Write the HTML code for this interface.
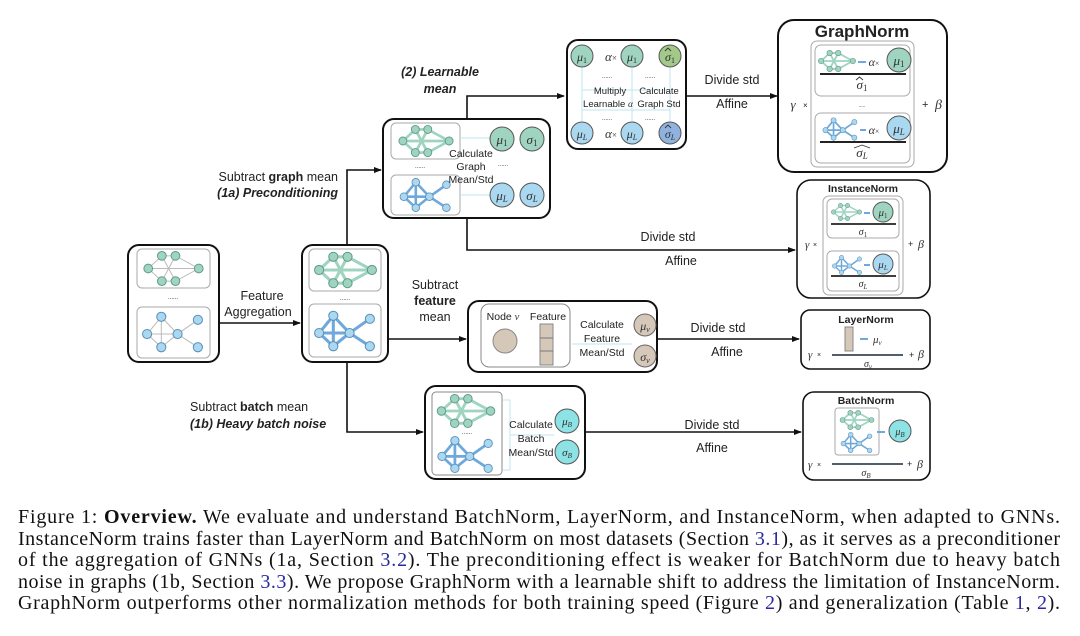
<!DOCTYPE html>
<html><head><meta charset="utf-8"><style>
html,body{margin:0;padding:0;background:#fff}
svg{display:block}
.s{font-family:"Liberation Sans",sans-serif;fill:#222}
.m{font-family:"Liberation Serif",serif;font-style:italic;fill:#333}
.c{font-family:"Liberation Serif",serif;fill:#111;font-size:20px}
</style></head><body>
<svg width="1080" height="636" viewBox="0 0 1080 636" xmlns="http://www.w3.org/2000/svg">
<defs>
<marker id="ar" markerWidth="8" markerHeight="8" refX="7" refY="4" orient="auto" markerUnits="userSpaceOnUse"><path d="M0,1 L8,4 L0,7 z" fill="#111"/></marker>
<symbol id="gg" viewBox="0 0 64 36">
<g stroke="#bbb" stroke-width="1"><line x1="6" y1="18" x2="58" y2="18"/><line x1="20" y1="5" x2="34" y2="5"/><line x1="20" y1="31" x2="34" y2="31"/><line x1="6" y1="18" x2="20" y2="5"/><line x1="6" y1="18" x2="20" y2="31"/><line x1="58" y1="18" x2="34" y2="5"/><line x1="58" y1="18" x2="34" y2="31"/><line x1="20" y1="5" x2="34" y2="31"/><line x1="34" y1="5" x2="20" y2="31"/></g>
<g fill="#9fd4c0" stroke="#5f9a88" stroke-width="1"><circle cx="20" cy="5" r="4.5"/><circle cx="34" cy="5" r="4.5"/><circle cx="6" cy="18" r="4.5"/><circle cx="58" cy="18" r="4.5"/><circle cx="20" cy="31" r="4.5"/><circle cx="34" cy="31" r="4.5"/></g>
</symbol>
<symbol id="ggt" viewBox="0 0 64 36">
<g stroke="#9fd4c0" stroke-width="3"><line x1="6" y1="18" x2="58" y2="18"/><line x1="20" y1="5" x2="34" y2="5"/><line x1="20" y1="31" x2="34" y2="31"/><line x1="6" y1="18" x2="20" y2="5"/><line x1="6" y1="18" x2="20" y2="31"/><line x1="58" y1="18" x2="34" y2="5"/><line x1="58" y1="18" x2="34" y2="31"/><line x1="20" y1="5" x2="34" y2="31"/><line x1="34" y1="5" x2="20" y2="31"/></g>
<g fill="#9fd4c0" stroke="#5f9a88" stroke-width="1"><circle cx="20" cy="5" r="4.5"/><circle cx="34" cy="5" r="4.5"/><circle cx="6" cy="18" r="4.5"/><circle cx="58" cy="18" r="4.5"/><circle cx="20" cy="31" r="4.5"/><circle cx="34" cy="31" r="4.5"/></g>
</symbol>
<symbol id="bg" viewBox="0 0 64 40">
<g stroke="#bbb" stroke-width="1"><line x1="20" y1="5" x2="20" y2="35"/><line x1="6" y1="22" x2="36" y2="22"/><line x1="20" y1="5" x2="6" y2="22"/><line x1="20" y1="5" x2="36" y2="22"/><line x1="6" y1="22" x2="20" y2="35"/><line x1="36" y1="22" x2="20" y2="35"/><line x1="36" y1="22" x2="56" y2="8"/><line x1="36" y1="22" x2="56" y2="35"/></g>
<g fill="#a9d8f0" stroke="#5b8fb8" stroke-width="1"><circle cx="20" cy="5" r="4.5"/><circle cx="6" cy="22" r="4.5"/><circle cx="36" cy="22" r="4.5"/><circle cx="20" cy="35" r="4.5"/><circle cx="56" cy="8" r="4.5"/><circle cx="56" cy="35" r="4.5"/></g>
</symbol>
<symbol id="bgt" viewBox="0 0 64 40">
<g stroke="#6fa8dc" stroke-width="3"><line x1="20" y1="5" x2="20" y2="35"/><line x1="6" y1="22" x2="36" y2="22"/><line x1="20" y1="5" x2="6" y2="22"/><line x1="20" y1="5" x2="36" y2="22"/><line x1="6" y1="22" x2="20" y2="35"/><line x1="36" y1="22" x2="20" y2="35"/><line x1="36" y1="22" x2="56" y2="8"/><line x1="36" y1="22" x2="56" y2="35"/></g>
<g fill="#a9d8f0" stroke="#5b8fb8" stroke-width="1"><circle cx="20" cy="5" r="4.5"/><circle cx="6" cy="22" r="4.5"/><circle cx="36" cy="22" r="4.5"/><circle cx="20" cy="35" r="4.5"/><circle cx="56" cy="8" r="4.5"/><circle cx="56" cy="35" r="4.5"/></g>
</symbol>
</defs>

<g fill="none" stroke="#111" stroke-width="1.6">
<line x1="219" y1="323" x2="300" y2="323" marker-end="url(#ar)"/>
<polyline points="347,245 347,170 381,170" marker-end="url(#ar)"/>
<polyline points="467,118 467,96 564,96" marker-end="url(#ar)"/>
<line x1="686" y1="96" x2="777" y2="96" marker-end="url(#ar)"/>
<polyline points="467,218 467,250 795,250" marker-end="url(#ar)"/>
<line x1="388" y1="339" x2="466" y2="339" marker-end="url(#ar)"/>
<line x1="657" y1="339" x2="799" y2="339" marker-end="url(#ar)"/>
<polyline points="347,362 347,432 423,432" marker-end="url(#ar)"/>
<line x1="585" y1="432" x2="801" y2="432" marker-end="url(#ar)"/>
</g>

<!-- Box A -->
<rect x="128" y="245" width="91" height="117" rx="11" fill="#fff" stroke="#111" stroke-width="2"/>
<rect x="137" y="249" width="73" height="39" rx="5" fill="#fff" stroke="#aaa"/>
<rect x="137" y="307" width="73" height="51" rx="5" fill="#fff" stroke="#aaa"/>
<use href="#gg" x="141" y="251" width="65" height="35"/>
<use href="#bg" x="141" y="311" width="65" height="42"/>
<text x="173" y="299" class="s" font-size="6" text-anchor="middle" fill="#999">......</text>

<text x="262" y="300" class="s" font-size="12.5" text-anchor="middle">Feature</text>
<text x="258" y="316" class="s" font-size="12.5" text-anchor="middle">Aggregation</text>

<!-- Box B -->
<rect x="302" y="245" width="86" height="117" rx="11" fill="#fff" stroke="#111" stroke-width="2"/>
<rect x="309" y="249" width="72" height="42" rx="5" fill="#fff" stroke="#aaa"/>
<rect x="309" y="304" width="72" height="53" rx="5" fill="#fff" stroke="#aaa"/>
<use href="#ggt" x="313" y="251" width="65" height="38"/>
<use href="#bgt" x="313" y="309" width="65" height="44"/>
<text x="345" y="300" class="s" font-size="6" text-anchor="middle" fill="#999">......</text>

<text x="338" y="181" class="s" font-size="12.5" text-anchor="end">Subtract <tspan font-weight="bold">graph</tspan> mean</text>
<text x="338" y="197" class="s" font-size="12.5" text-anchor="end" font-weight="bold" font-style="italic">(1a) Preconditioning</text>
<text x="440" y="76" class="s" font-size="12.5" text-anchor="middle" font-weight="bold" font-style="italic">(2) Learnable</text>
<text x="440" y="93" class="s" font-size="12.5" text-anchor="middle" font-weight="bold" font-style="italic">mean</text>

<!-- Box C -->
<rect x="383" y="119" width="167" height="99" rx="11" fill="#fff" stroke="#111" stroke-width="2"/>
<rect x="391" y="123" width="69" height="36" rx="5" fill="#fff" stroke="#aaa"/>
<rect x="391" y="175" width="69" height="40" rx="5" fill="#fff" stroke="#aaa"/>
<use href="#ggt" x="395" y="125" width="62" height="32"/>
<use href="#bgt" x="395" y="178" width="62" height="34"/>
<line x1="460" y1="138" x2="490" y2="138" stroke="#bfe4f2"/>
<line x1="460" y1="195" x2="490" y2="195" stroke="#bfe4f2"/>
<text x="420" y="168" class="s" font-size="6" text-anchor="middle" fill="#999">......</text>
<text x="503" y="166" class="s" font-size="6" text-anchor="middle" fill="#999">......</text>
<text x="471" y="157" class="s" font-size="10.5" text-anchor="middle">Calculate</text>
<text x="471" y="170" class="s" font-size="10.5" text-anchor="middle">Graph</text>
<text x="471" y="183" class="s" font-size="10.5" text-anchor="middle">Mean/Std</text>
<circle cx="502" cy="139" r="12" fill="#9fd4c0" stroke="#555"/><text x="502" y="144" class="m" font-size="13" text-anchor="middle">μ<tspan font-size="9" dy="2" font-style="normal">1</tspan></text>
<circle cx="532" cy="139" r="12" fill="#9fd4c0" stroke="#555"/><text x="532" y="144" class="m" font-size="13" text-anchor="middle">σ<tspan font-size="9" dy="2" font-style="normal">1</tspan></text>
<circle cx="502" cy="195" r="12" fill="#a9d8f0" stroke="#555"/><text x="502" y="200" class="m" font-size="13" text-anchor="middle">μ<tspan font-size="9" dy="2">L</tspan></text>
<circle cx="532" cy="195" r="12" fill="#a9d8f0" stroke="#555"/><text x="532" y="200" class="m" font-size="13" text-anchor="middle">σ<tspan font-size="9" dy="2">L</tspan></text>

<!-- Box D -->
<rect x="567" y="40" width="119" height="109" rx="11" fill="#fff" stroke="#111" stroke-width="2"/>
<g stroke="#bfe4f2" fill="none"><line x1="582" y1="68" x2="582" y2="121"/><line x1="582" y1="110" x2="670" y2="110"/><line x1="632" y1="68" x2="632" y2="121"/><line x1="582" y1="90" x2="670" y2="90"/><line x1="670" y1="68" x2="670" y2="121"/></g>
<text x="610" y="94" class="s" font-size="9.5" text-anchor="middle">Multiply</text>
<text x="608" y="107" class="s" font-size="9.5" text-anchor="middle">Learnable <tspan class="m">α</tspan></text>
<text x="659" y="94" class="s" font-size="9.5" text-anchor="middle">Calculate</text>
<text x="659" y="107" class="s" font-size="9.5" text-anchor="middle">Graph Std</text>
<text x="607" y="78" class="s" font-size="6" text-anchor="middle" fill="#999">......</text>
<text x="650" y="78" class="s" font-size="6" text-anchor="middle" fill="#999">......</text>
<text x="607" y="120" class="s" font-size="6" text-anchor="middle" fill="#999">......</text>
<text x="650" y="120" class="s" font-size="6" text-anchor="middle" fill="#999">......</text>
<circle cx="582" cy="56" r="11" fill="#9fd4c0" stroke="#555"/><text x="582" y="61" class="m" font-size="12" text-anchor="middle">μ<tspan font-size="8" dy="2" font-style="normal">1</tspan></text>
<text x="611" y="61" class="m" font-size="13" text-anchor="middle">α<tspan font-size="9" font-style="normal">×</tspan></text>
<circle cx="632" cy="56" r="11" fill="#9fd4c0" stroke="#555"/><text x="632" y="61" class="m" font-size="12" text-anchor="middle">μ<tspan font-size="8" dy="2" font-style="normal">1</tspan></text>
<circle cx="670" cy="56" r="11" fill="#a3c98a" stroke="#555"/><text x="670" y="61" class="m" font-size="12" text-anchor="middle">σ<tspan font-size="8" dy="2" font-style="normal">1</tspan></text><path d="M665,51 L668,48 L671,51" fill="none" stroke="#333" stroke-width="0.9"/>
<circle cx="582" cy="133" r="11" fill="#a9d8f0" stroke="#555"/><text x="582" y="138" class="m" font-size="12" text-anchor="middle">μ<tspan font-size="8" dy="2">L</tspan></text>
<text x="611" y="138" class="m" font-size="13" text-anchor="middle">α<tspan font-size="9" font-style="normal">×</tspan></text>
<circle cx="632" cy="133" r="11" fill="#a9d8f0" stroke="#555"/><text x="632" y="138" class="m" font-size="12" text-anchor="middle">μ<tspan font-size="8" dy="2">L</tspan></text>
<circle cx="670" cy="133" r="11" fill="#8fb3de" stroke="#555"/><text x="670" y="138" class="m" font-size="12" text-anchor="middle">σ<tspan font-size="8" dy="2">L</tspan></text><path d="M665,128 L668,125 L671,128" fill="none" stroke="#333" stroke-width="0.9"/>

<text x="732" y="84" class="s" font-size="12.5" text-anchor="middle">Divide std</text>
<text x="732" y="108" class="s" font-size="12.5" text-anchor="middle">Affine</text>

<!-- GraphNorm -->
<rect x="778" y="20" width="169" height="152" rx="16" fill="#fff" stroke="#111" stroke-width="2"/>
<text x="862" y="37" class="s" font-size="17" font-weight="bold" text-anchor="middle" fill="#111">GraphNorm</text>
<rect x="811" y="41" width="103" height="126" rx="6" fill="none" stroke="#aaa"/>
<rect x="815" y="45" width="95" height="51" rx="6" fill="none" stroke="#aaa"/>
<rect x="815" y="113" width="95" height="50" rx="6" fill="none" stroke="#aaa"/>
<use href="#ggt" x="817" y="50" width="40" height="22"/>
<line x1="858" y1="62" x2="866" y2="62" stroke="#6fa8dc" stroke-width="2"/>
<text x="874" y="66" class="m" font-size="12" text-anchor="middle">α<tspan font-size="8" font-style="normal">×</tspan></text>
<circle cx="899" cy="60" r="12" fill="#9fd4c0" stroke="#555"/><text x="899" y="65" class="m" font-size="13" text-anchor="middle">μ<tspan font-size="9" dy="2" font-style="normal">1</tspan></text>
<line x1="820" y1="74" x2="906" y2="74" stroke="#222" stroke-width="2"/>
<text x="862" y="89" class="m" font-size="13" text-anchor="middle">σ<tspan font-size="9" dy="2" font-style="normal">1</tspan></text><path d="M856,80 L859.5,77 L863,80" fill="none" stroke="#333" stroke-width="0.9"/>
<text x="862" y="107" class="s" font-size="5" text-anchor="middle" fill="#aaa">.....</text>
<use href="#bgt" x="822" y="117" width="37" height="24"/>
<line x1="860" y1="130" x2="866" y2="130" stroke="#6fa8dc" stroke-width="2"/>
<text x="874" y="134" class="m" font-size="12" text-anchor="middle">α<tspan font-size="8" font-style="normal">×</tspan></text>
<circle cx="899" cy="128" r="12" fill="#a9d8f0" stroke="#555"/><text x="899" y="133" class="m" font-size="13" text-anchor="middle">μ<tspan font-size="9" dy="2">L</tspan></text>
<line x1="820" y1="142" x2="906" y2="142" stroke="#222" stroke-width="2"/>
<text x="862" y="157" class="m" font-size="13" text-anchor="middle">σ<tspan font-size="9" dy="2">L</tspan></text><path d="M854,148 L862,145 L870,148" fill="none" stroke="#333" stroke-width="0.8"/>
<text x="793" y="109" class="m" font-size="13" text-anchor="middle">γ</text><text x="803" y="108" class="s" font-size="8">×</text>
<text x="922" y="108" class="s" font-size="11">+</text><text x="935" y="109" class="m" font-size="14">β</text>

<text x="668" y="241" class="s" font-size="12.5" text-anchor="middle">Divide std</text>
<text x="681" y="265" class="s" font-size="12.5" text-anchor="middle">Affine</text>

<!-- InstanceNorm -->
<rect x="797" y="180" width="133" height="118" rx="14" fill="#fff" stroke="#111" stroke-width="1.6"/>
<text x="863" y="192" class="s" font-size="10.5" font-weight="bold" text-anchor="middle" fill="#111">InstanceNorm</text>
<rect x="823" y="196" width="80" height="99" rx="6" fill="none" stroke="#aaa"/>
<rect x="827" y="199" width="72" height="39" rx="5" fill="none" stroke="#aaa"/>
<rect x="827" y="251" width="72" height="40" rx="5" fill="none" stroke="#aaa"/>
<use href="#ggt" x="830" y="203" width="33" height="18"/>
<line x1="864" y1="213" x2="870" y2="213" stroke="#6fa8dc" stroke-width="2"/>
<circle cx="883" cy="212" r="10" fill="#9fd4c0" stroke="#555"/><text x="883" y="216" class="m" font-size="11" text-anchor="middle">μ<tspan font-size="7" dy="2" font-style="normal">1</tspan></text>
<line x1="831" y1="224" x2="896" y2="224" stroke="#222" stroke-width="1.8"/>
<text x="863" y="235" class="m" font-size="10" text-anchor="middle">σ<tspan font-size="7" dy="2" font-style="normal">1</tspan></text>
<use href="#bgt" x="831" y="255" width="33" height="20"/>
<line x1="864" y1="265" x2="870" y2="265" stroke="#6fa8dc" stroke-width="2"/>
<circle cx="883" cy="264" r="10" fill="#a9d8f0" stroke="#555"/><text x="883" y="268" class="m" font-size="11" text-anchor="middle">μ<tspan font-size="7" dy="2">L</tspan></text>
<line x1="831" y1="276" x2="896" y2="276" stroke="#222" stroke-width="1.8"/>
<text x="863" y="287" class="m" font-size="10" text-anchor="middle">σ<tspan font-size="7" dy="2">L</tspan></text>
<text x="805" y="248" class="m" font-size="11">γ</text><text x="813" y="247" class="s" font-size="7">×</text>
<text x="908" y="247" class="s" font-size="9">+</text><text x="918" y="248" class="m" font-size="12">β</text>

<!-- Feature -->
<text x="435" y="289" class="s" font-size="12.5" text-anchor="middle">Subtract</text>
<text x="435" y="305" class="s" font-size="12.5" text-anchor="middle" font-weight="bold">feature</text>
<text x="435" y="321" class="s" font-size="12.5" text-anchor="middle">mean</text>
<rect x="468" y="301" width="189" height="71" rx="11" fill="#fff" stroke="#111" stroke-width="2"/>
<rect x="481" y="304" width="89" height="63" rx="8" fill="none" stroke="#888"/>
<text x="503" y="320" class="s" font-size="10.5" text-anchor="middle">Node <tspan class="m">v</tspan></text>
<text x="548" y="320" class="s" font-size="10.5" text-anchor="middle">Feature</text>
<circle cx="505" cy="341" r="12" fill="#d5c8b8" stroke="#888"/>
<rect x="540" y="324" width="13" height="41" fill="#d5c8b8" stroke="#888"/>
<line x1="540" y1="338" x2="553" y2="338" stroke="#777"/><line x1="540" y1="351" x2="553" y2="351" stroke="#777"/>
<line x1="572" y1="344" x2="632" y2="344" stroke="#bfe4f2"/>
<text x="602" y="328" class="s" font-size="10.5" text-anchor="middle">Calculate</text>
<text x="602" y="342" class="s" font-size="10.5" text-anchor="middle">Feature</text>
<text x="602" y="356" class="s" font-size="10.5" text-anchor="middle">Mean/Std</text>
<circle cx="645" cy="325" r="11" fill="#d5c8b8" stroke="#666"/><text x="645" y="330" class="m" font-size="12" text-anchor="middle">μ<tspan font-size="8" dy="2">v</tspan></text>
<circle cx="645" cy="356" r="11" fill="#d5c8b8" stroke="#666"/><text x="645" y="361" class="m" font-size="12" text-anchor="middle">σ<tspan font-size="8" dy="2">v</tspan></text>
<text x="718" y="332" class="s" font-size="12.5" text-anchor="middle">Divide std</text>
<text x="727" y="356" class="s" font-size="12.5" text-anchor="middle">Affine</text>

<!-- LayerNorm -->
<rect x="801" y="310" width="129" height="59" rx="9" fill="#fff" stroke="#111" stroke-width="1.6"/>
<text x="866" y="323" class="s" font-size="10.5" font-weight="bold" text-anchor="middle" fill="#111">LayerNorm</text>
<rect x="845" y="327" width="8" height="24" fill="#d5c8b8" stroke="#888"/>
<line x1="860" y1="339" x2="868" y2="339" stroke="#6fa8dc" stroke-width="2"/>
<text x="873" y="343" class="m" font-size="11">μ<tspan font-size="7" dy="2">v</tspan></text>
<line x1="832" y1="355" x2="903" y2="355" stroke="#3a4658" stroke-width="1.8"/>
<text x="868" y="367" class="m" font-size="10" text-anchor="middle">σ<tspan font-size="7" dy="2">v</tspan></text>
<text x="808" y="358" class="m" font-size="11">γ</text><text x="817" y="357" class="s" font-size="7">×</text>
<text x="909" y="358" class="s" font-size="9">+</text><text x="918" y="358" class="m" font-size="12">β</text>

<!-- Batch -->
<text x="190" y="411" class="s" font-size="12.5">Subtract <tspan font-weight="bold">batch</tspan> mean</text>
<text x="190" y="428" class="s" font-size="12.5" font-weight="bold" font-style="italic">(1b) Heavy batch noise</text>
<rect x="425" y="386" width="160" height="93" rx="11" fill="#fff" stroke="#111" stroke-width="2"/>
<rect x="432" y="392" width="70" height="83" rx="4" fill="none" stroke="#888"/>
<use href="#ggt" x="434" y="394" width="64" height="34"/>
<use href="#bgt" x="434" y="436" width="64" height="37"/>
<text x="467" y="434" class="s" font-size="6" text-anchor="middle" fill="#999">......</text>
<polyline points="503,400 510,400 510,470 503,470" fill="none" stroke="#bfe4f2"/>
<line x1="510" y1="435" x2="554" y2="435" stroke="#bfe4f2"/>
<text x="531" y="428" class="s" font-size="10.5" text-anchor="middle">Calculate</text>
<text x="531" y="442" class="s" font-size="10.5" text-anchor="middle">Batch</text>
<text x="531" y="456" class="s" font-size="10.5" text-anchor="middle">Mean/Std</text>
<circle cx="567" cy="421" r="12" fill="#8de2e4" stroke="#555"/><text x="567" y="425" class="m" font-size="11" text-anchor="middle">μ<tspan font-size="7" dy="2">B</tspan></text>
<circle cx="567" cy="452" r="12" fill="#8de2e4" stroke="#555"/><text x="567" y="456" class="m" font-size="11" text-anchor="middle">σ<tspan font-size="7" dy="2">B</tspan></text>
<text x="712" y="429" class="s" font-size="12.5" text-anchor="middle">Divide std</text>
<text x="712" y="452" class="s" font-size="12.5" text-anchor="middle">Affine</text>

<!-- BatchNorm -->
<rect x="803" y="392" width="127" height="88" rx="11" fill="#fff" stroke="#111" stroke-width="1.6"/>
<text x="866" y="404" class="s" font-size="10.5" font-weight="bold" text-anchor="middle" fill="#111">BatchNorm</text>
<rect x="835" y="408" width="44" height="47" rx="3" fill="none" stroke="#aaa"/>
<use href="#ggt" x="837" y="410" width="40" height="20"/>
<use href="#bgt" x="837" y="432" width="40" height="21"/>
<line x1="877" y1="432" x2="885" y2="432" stroke="#6fa8dc" stroke-width="2"/>
<circle cx="900" cy="431" r="11" fill="#8de2e4" stroke="#555"/><text x="900" y="435" class="m" font-size="10" text-anchor="middle">μ<tspan font-size="7" dy="2">B</tspan></text>
<line x1="832" y1="464" x2="903" y2="464" stroke="#3a4658" stroke-width="1.8"/>
<text x="866" y="476" class="m" font-size="10" text-anchor="middle">σ<tspan font-size="7" dy="2">B</tspan></text>
<text x="808" y="468" class="m" font-size="11">γ</text><text x="817" y="467" class="s" font-size="7">×</text>
<text x="907" y="467" class="s" font-size="9">+</text><text x="917" y="468" class="m" font-size="12">β</text>

<!-- Caption -->
<text x="18" y="523" class="c" textLength="1042" lengthAdjust="spacing">Figure 1: <tspan font-weight="bold">Overview.</tspan> We evaluate and understand BatchNorm, LayerNorm, and InstanceNorm, when adapted to GNNs.</text>
<text x="18" y="545" class="c" textLength="1042" lengthAdjust="spacing">InstanceNorm trains faster than LayerNorm and BatchNorm on most datasets (Section <tspan fill="#2a2aa0">3.1</tspan>), as it serves as a preconditioner</text>
<text x="18" y="566" class="c" textLength="1042" lengthAdjust="spacing">of the aggregation of GNNs (1a, Section <tspan fill="#2a2aa0">3.2</tspan>). The preconditioning effect is weaker for BatchNorm due to heavy batch</text>
<text x="18" y="588" class="c" textLength="1042" lengthAdjust="spacing">noise in graphs (1b, Section <tspan fill="#2a2aa0">3.3</tspan>). We propose GraphNorm with a learnable shift to address the limitation of InstanceNorm.</text>
<text x="18" y="609" class="c" textLength="1042" lengthAdjust="spacing">GraphNorm outperforms other normalization methods for both training speed (Figure <tspan fill="#2a2aa0">2</tspan>) and generalization (Table <tspan fill="#2a2aa0">1</tspan>, <tspan fill="#2a2aa0">2</tspan>).</text>
</svg>
</body></html>
